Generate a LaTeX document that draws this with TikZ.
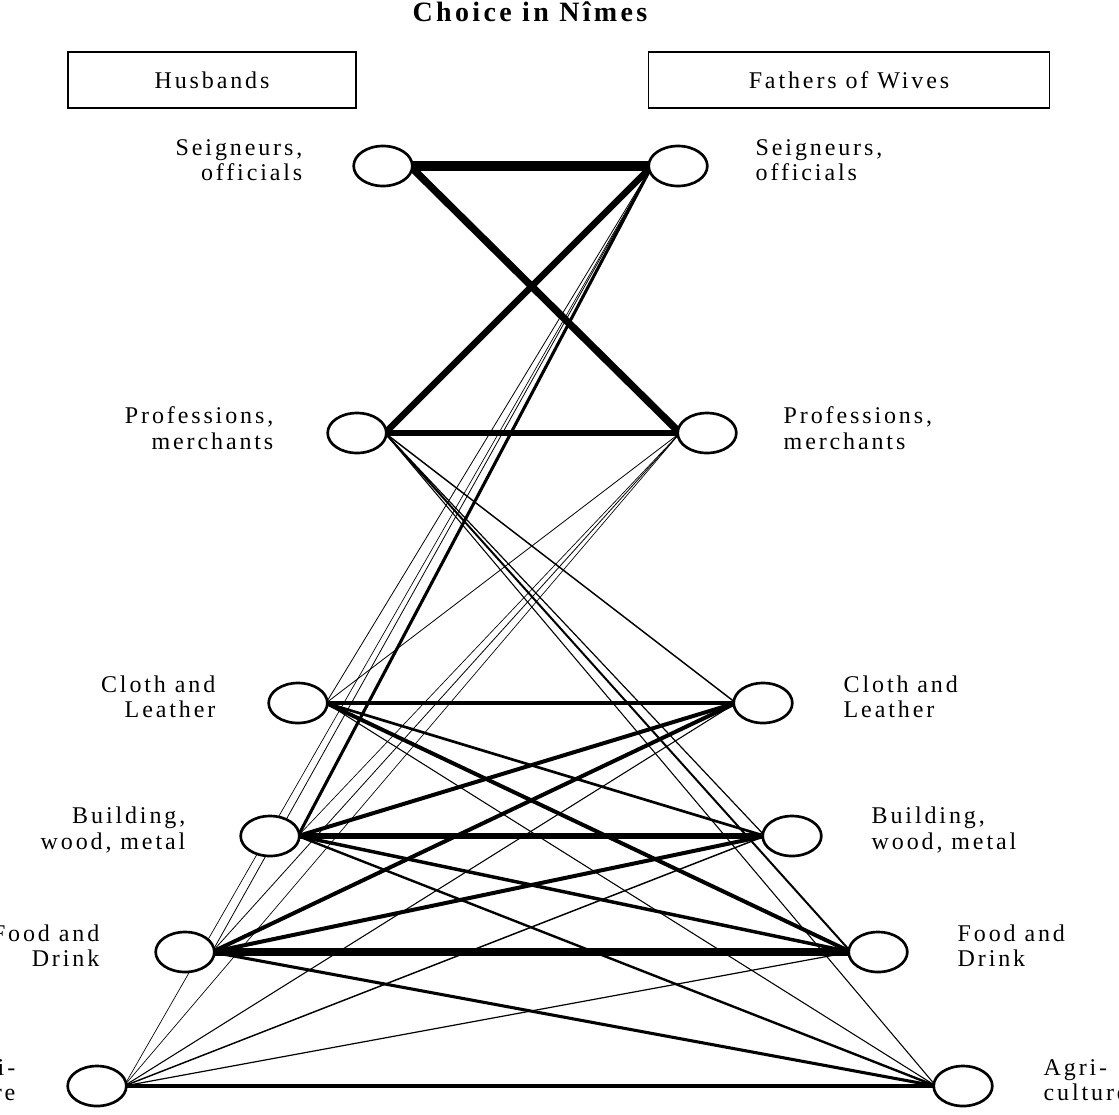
\documentclass[tikz,border=0pt]{standalone}
\usepackage{fontspec}
\setmainfont{Liberation Serif}[LetterSpace=12]
\usetikzlibrary{positioning, calc, shapes.geometric}

\begin{document}
\begin{tikzpicture}[
    x=0.75pt, y=-0.75pt,
    font=\fontsize{18}{19}\selectfont,
    % styles
    occ/.style={ellipse, draw, line width=2pt, minimum width=44pt, minimum height=30pt, inner sep=0pt, fill=white},
    lbl/.style={align=left, anchor=west},
    lblL/.style={align=right, anchor=east},
    side/.style={draw, line width=0.8pt, minimum height=42pt},
    tie/.style={line width=#1, line cap=butt}
]
    \useasboundingbox (0,0) rectangle (1119,1114);
    \clip (0,0) rectangle (1119,1114);

    % ====== title and headings ======
    \node[font=\fontsize{21}{22}\selectfont\bfseries] (title) at (530,12) {Choice in Nîmes};
    \node[side, minimum width=216pt] (hus) at (212,80) {Husbands};
    \node[side, minimum width=301pt] (fat) at (849,80) {Fathers of Wives};

    % ====== ties (drawn first, circles on top) ======
    \coordinate (L1) at (410,166);  \coordinate (R1) at (652,166);
    \coordinate (L2) at (385,433);  \coordinate (R2) at (680,433);
    \coordinate (L3) at (326,703);  \coordinate (R3) at (736,703);
    \coordinate (L4) at (298,836);  \coordinate (R4) at (765,836);
    \coordinate (L5) at (212,952);  \coordinate (R5) at (851,952);
    \coordinate (L6) at (124,1086); \coordinate (R6) at (936,1086);

    \foreach \a/\b/\w in {
        L1/R1/7.5pt, L1/R2/5.5pt, L2/R1/5pt, L2/R2/3.8pt,
        L2/R3/1.1pt, L2/R4/0.9pt, L2/R5/1.5pt, L2/R6/0.8pt,
        R1/L3/0.6pt, R1/L4/2.3pt, R1/L5/0.6pt, R1/L6/0.5pt,
        R2/L3/0.6pt, R2/L4/0.5pt, R2/L5/0.6pt, R2/L6/0.5pt,
        L3/R3/3pt, L3/R4/2pt, L3/R5/3pt, L3/R6/0.8pt,
        R3/L4/3pt, R3/L5/3pt, R3/L6/0.8pt,
        L4/R4/3.8pt, L4/R5/2.6pt, L4/R6/1.8pt,
        R4/L5/3pt, R4/L6/1.1pt,
        L5/R5/5.5pt, L5/R6/2.3pt, R5/L6/0.9pt,
        L6/R6/3pt}
        \draw[tie=\w] (\a) -- (\b);

    % ====== husbands (left) ======
    \node[occ] (seigL) at (383,166) {};
    \node[occ] (profL) at (357,433) {};
    \node[occ] (clothL) at (298,703) {};
    \node[occ] (buildL) at (270,836) {};
    \node[occ] (foodL) at (185,952) {};
    \node[occ] (agriL) at (97,1086) {};

    \node[lblL] at (307,160) {Seigneurs,\\officials};
    \node[lblL] at (278,428) {Professions,\\merchants};
    \node[lblL] at (220,697) {Cloth and\\Leather};
    \node[lblL] at (190,830) {Building,\\wood, metal};
    \node[lblL] at (104,946) {Food and\\Drink};
    \node[lblL] at (20,1080) {Agri-\\culture};

    % ====== fathers of wives (right) ======
    \node[occ] (seigR) at (678,166) {};
    \node[occ] (profR) at (707,433) {};
    \node[occ] (clothR) at (763,703) {};
    \node[occ] (buildR) at (792,836) {};
    \node[occ] (foodR) at (878,952) {};
    \node[occ] (agriR) at (963,1086) {};

    \node[lbl] at (751,160) {Seigneurs,\\officials};
    \node[lbl] at (779,428) {Professions,\\merchants};
    \node[lbl] at (839,697) {Cloth and\\Leather};
    \node[lbl] at (867,830) {Building,\\wood, metal};
    \node[lbl] at (953,946) {Food and\\Drink};
    \node[lbl] at (1039,1080) {Agri-\\culture};
\end{tikzpicture}
\end{document}
